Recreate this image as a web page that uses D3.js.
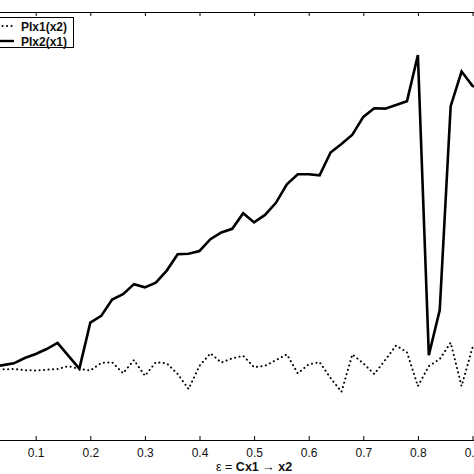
<!DOCTYPE html>
<meta charset="utf-8">
<style>
  body { margin: 0; background: #fff; }
  text { font-family: "Liberation Sans", Arial, Helvetica, sans-serif; }
</style>

<!-- Load d3.js -->
<script src="https://d3js.org/d3.v7.min.js"></script>

<!-- Create a div where the graph will take place -->
<div id="my_dataviz"></div>

<script>

// epsilon values (x axis)
var eps = [0.00, 0.02, 0.04, 0.06, 0.08, 0.10, 0.12, 0.14, 0.16, 0.18,
           0.20, 0.22, 0.24, 0.26, 0.28, 0.30, 0.32, 0.34, 0.36, 0.38,
           0.40, 0.42, 0.44, 0.46, 0.48, 0.50, 0.52, 0.54, 0.56, 0.58,
           0.60, 0.62, 0.64, 0.66, 0.68, 0.70, 0.72, 0.74, 0.76, 0.78,
           0.80, 0.82, 0.84, 0.86, 0.88, 0.90, 0.92];

// PIx1(x2), dotted
var pix1x2 = [-0.002, -0.001, -0.002, -0.001, -0.004, -0.005, -0.003, -0.001, 0.007, -0.001,
              -0.005, 0.016, 0.018, -0.013, 0.024, -0.020, 0.018, 0.015, -0.015, -0.057,
              0.008, 0.043, 0.017, 0.029, 0.036, 0.004, 0.008, 0.024, 0.040, -0.013,
              0.012, 0.018, -0.026, -0.065, 0.040, 0.015, -0.015, 0.024, 0.065, 0.046,
              -0.049, 0.007, 0.027, 0.073, -0.049, 0.059, 0.020];

// PIx2(x1), solid
var pix2x1 = [0.002, 0.005, 0.010, 0.015, 0.030, 0.041, 0.055, 0.072, 0.036, 0.000,
              0.129, 0.148, 0.194, 0.209, 0.237, 0.228, 0.241, 0.275, 0.321, 0.322,
              0.330, 0.363, 0.382, 0.392, 0.436, 0.410, 0.431, 0.465, 0.517, 0.545,
              0.545, 0.542, 0.606, 0.630, 0.656, 0.706, 0.730, 0.729, 0.739, 0.750,
              0.879, 0.038, 0.164, 0.736, 0.833, 0.793, 0.781];

var xTicks = [0.1, 0.2, 0.3, 0.4, 0.5, 0.6, 0.7, 0.8, 0.9];
var legendLabels = ["PIx1(x2)", "PIx2(x1)"];

var width = 474, height = 474;

var svg = d3.select("#my_dataviz")
  .append("svg")
    .attr("width", width)
    .attr("height", height);

// the plotting box is cropped on the left and right
var x = d3.scaleLinear()
  .domain([0, 1])
  .range([-18.9, 527.1]);

var y = d3.scaleLinear()
  .domain([-0.2, 1.0])
  .range([440, 12]);

// bottom axis, ticks pointing inwards
svg.append("g")
  .attr("transform", "translate(0," + y(-0.2) + ")")
  .style("font-size", "12px")
  .call(d3.axisBottom(x)
    .tickValues(xTicks)
    .tickFormat(d3.format(".1f"))
    .tickSizeInner(-4)
    .tickSizeOuter(0)
    .tickPadding(8))
  .call(function(g) {
    g.select(".domain").attr("stroke", "#000").attr("stroke-width", 1);
    g.selectAll("text").attr("fill", "#111").attr("font-family", "Liberation Sans, Arial, sans-serif");
  });

// top axis, no labels
svg.append("g")
  .attr("transform", "translate(0," + y(1.0) + ")")
  .call(d3.axisTop(x)
    .tickValues(xTicks)
    .tickFormat("")
    .tickSizeInner(-4)
    .tickSizeOuter(0))
  .call(function(g) {
    g.select(".domain").attr("stroke", "#000").attr("stroke-width", 1);
  });

// text label for the x axis
var xl = svg.append("text")
  .attr("x", x(0.5))
  .attr("y", 471)
  .attr("text-anchor", "middle")
  .style("font-size", "12.5px")
  .attr("fill", "#111");
xl.append("tspan").text("ε = ");
xl.append("tspan").style("font-weight", "bold").text("Cx1 ");
xl.append("tspan").text("→ ");
xl.append("tspan").style("font-weight", "bold").text("x2");

var pts1 = eps.map(function(d, i) { return {x: d, y: pix1x2[i]}; });
var pts2 = eps.map(function(d, i) { return {x: d, y: pix2x1[i]}; });

var line = d3.line()
  .x(function(d) { return x(d.x); })
  .y(function(d) { return y(d.y); });

// dotted series
svg.append("path")
  .datum(pts1)
  .attr("fill", "none")
  .attr("stroke", "#000")
  .attr("stroke-width", 2)
  .attr("stroke-linecap", "round")
  .attr("stroke-dasharray", "0.1,4.4")
  .attr("d", line);

// solid series
svg.append("path")
  .datum(pts2)
  .attr("fill", "none")
  .attr("stroke", "#000")
  .attr("stroke-width", 2.6)
  .attr("stroke-linejoin", "miter")
  .attr("d", line);

// legend box
var legend = svg.append("g");
legend.append("rect")
  .attr("x", -5)
  .attr("y", 17.5)
  .attr("width", 78.5)
  .attr("height", 30)
  .attr("fill", "#fff")
  .attr("stroke", "#000")
  .attr("stroke-width", 1);

legend.append("line")
  .attr("x1", -2).attr("x2", 14)
  .attr("y1", 26).attr("y2", 26)
  .attr("stroke", "#000")
  .attr("stroke-width", 2)
  .attr("stroke-linecap", "round")
  .attr("stroke-dasharray", "0.1,4.4");

legend.append("line")
  .attr("x1", -2).attr("x2", 14)
  .attr("y1", 41).attr("y2", 41)
  .attr("stroke", "#000")
  .attr("stroke-width", 2.4);

legend.selectAll("text.lg")
  .data(legendLabels)
  .enter()
  .append("text")
    .attr("class", "lg")
    .attr("x", 21)
    .attr("y", function(d, i) { return 30.5 + i * 15; })
    .style("font-size", "12px")
    .style("font-weight", "bold")
    .attr("fill", "#111")
    .text(function(d) { return d; });

</script>
